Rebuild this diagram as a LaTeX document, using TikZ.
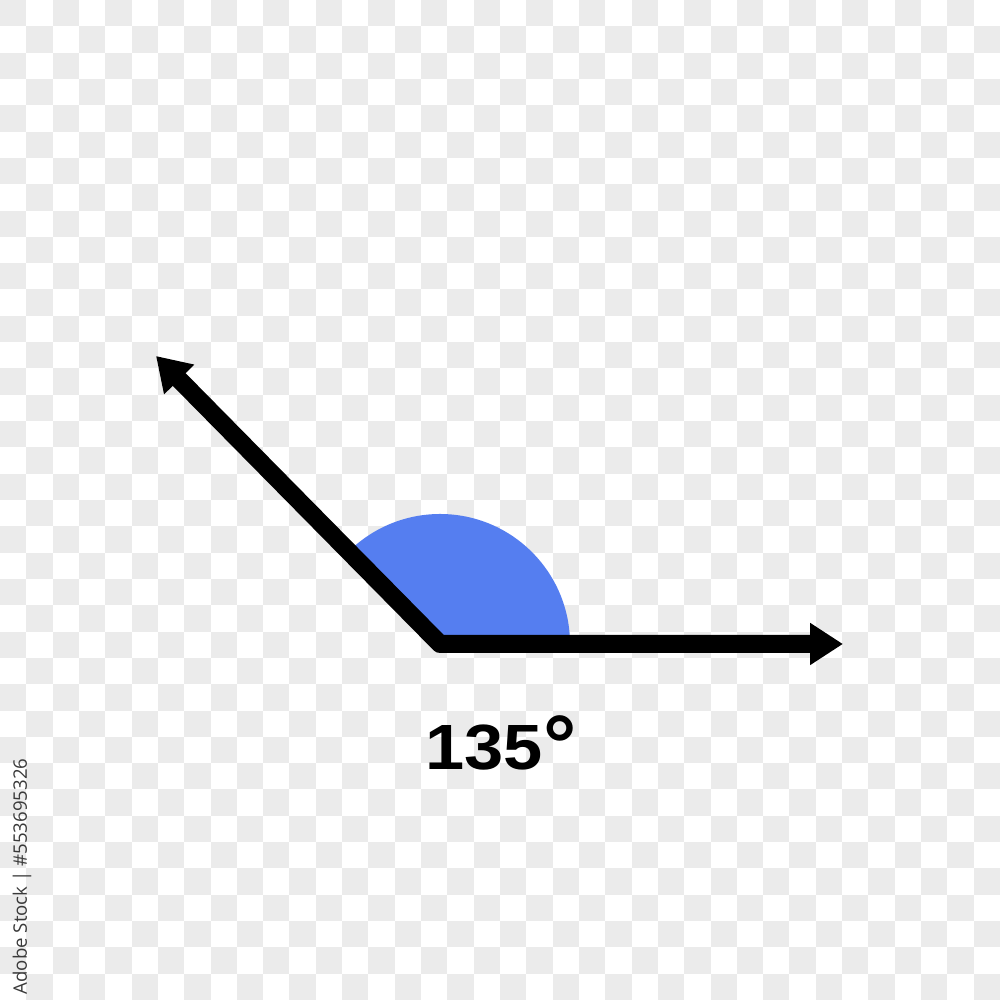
\documentclass[tikz,border=0pt]{standalone}
\usepackage{fontspec}
\setmainfont{Liberation Sans}
\newfontfamily\stockfont{Open Sans}
\usetikzlibrary{arrows.meta}
\definecolor{checkgray}{HTML}{EBEBEB}
\definecolor{angleblue}{HTML}{557EF0}
\definecolor{stockgray}{HTML}{3A3A3A}

\begin{document}
\begin{tikzpicture}[>={Triangle[length=0.33cm,width=0.40cm]}]
    \tikzstyle{checker}=[fill=checkgray]
    \tikzstyle{sector}=[fill=angleblue]
    \tikzstyle{ray}=[draw=black,line width=0.18cm,line join=round]
    \tikzstyle{measure}=[font=\fontsize{18.2}{20}\selectfont\bfseries,anchor=base,inner sep=0pt]
    \tikzstyle{stockid}=[font=\stockfont\fontsize{5.3}{6}\selectfont,text=stockgray,rotate=90,anchor=west,inner sep=0pt]
    \useasboundingbox (0,0) rectangle (10,10);
    \fill[white] (0,0) rectangle (10,10);
    % transparency checkerboard
    \def\sq{0.263158}
    \foreach \i in {0,...,37}
      \foreach \j in {0,...,37}{
        \pgfmathtruncatemacro\odd{mod(\i+\j,2)}
        \ifnum\odd=1 \fill[checker] (\i*\sq,\j*\sq) rectangle ++(\sq,\sq); \fi
      }
    \coordinate (vertex) at (4.40,3.56);
    \coordinate (armup) at (1.56,6.44);
    \coordinate (armright) at (8.43,3.56);
    % the angle
    \fill[sector] (vertex) -- ++(0:1.30) arc[start angle=0,end angle=135,radius=1.30] -- cycle;
    \draw[ray,<->] (armup) -- (vertex) -- (armright);
    \node[measure] (value) at (5.01,2.30) {\scalebox{1.1}[1]{135}\hspace{0.01cm}\raisebox{-0.04cm}{\scalebox{1.3}{°}}};
    \node[stockid] (stock) at (0.22,0.05) {Adobe Stock | \#553695326};
\end{tikzpicture}
\end{document}
